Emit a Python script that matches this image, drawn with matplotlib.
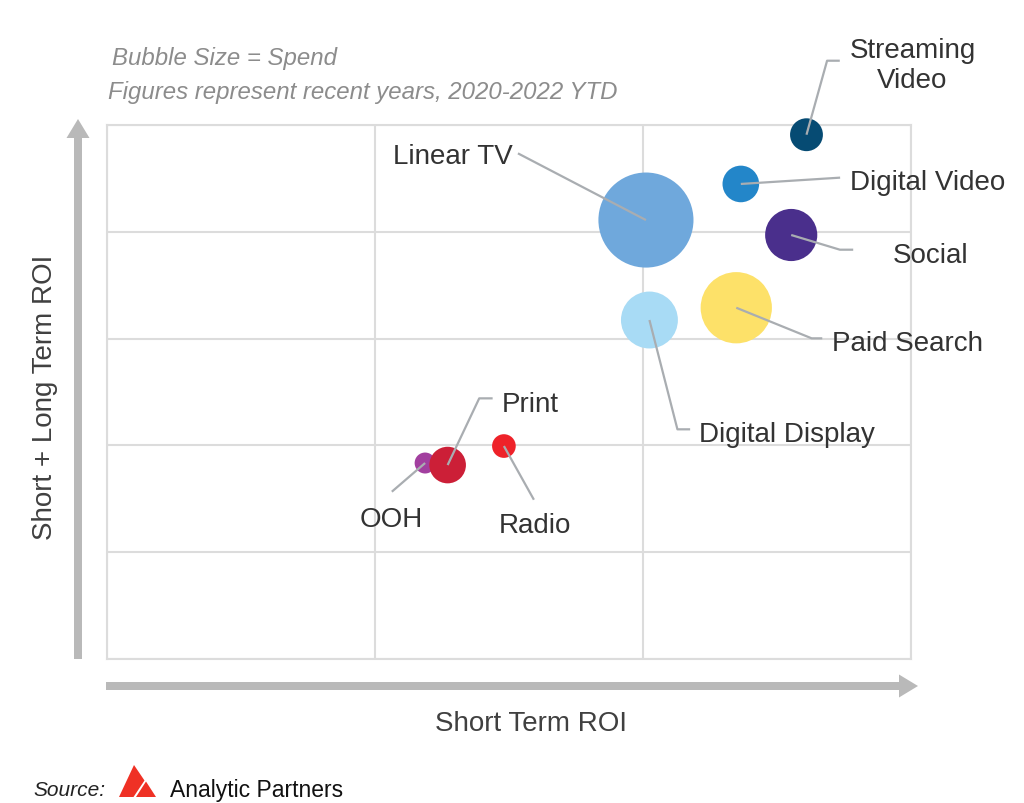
import matplotlib
matplotlib.use('Agg')
import matplotlib.pyplot as plt
from matplotlib.patches import FancyArrow, Polygon
import numpy as np

plt.rcParams['font.family'] = ['Liberation Sans', 'DejaVu Sans']

# data (axes: 0-3 short term ROI, 0-5 short+long term ROI)
channels = ['Streaming Video', 'Digital Video', 'Linear TV', 'Social', 'Paid Search',
            'Digital Display', 'OOH', 'Print', 'Radio']
short_roi = [2.61, 2.365, 2.011, 2.553, 2.348, 2.024, 1.187, 1.271, 1.481]
total_roi = [4.909, 4.448, 4.110, 3.970, 3.289, 3.174, 1.835, 1.816, 1.994]
spend = [2.7, 3.35, 22.6, 6.8, 12.7, 8.1, 1.1, 3.35, 1.4]
colors = ['#064b73', '#2386c9', '#6fa8dc', '#4a2f8c', '#fde169',
          '#a8dbf5', '#a23f9f', '#cc1f37', '#ee2229']

W, H = 1024, 804
fig = plt.figure(figsize=(W / 100, H / 100), dpi=100)

# main plot area
ax = fig.add_axes([107 / W, (H - 660) / H, 804 / W, 534 / H], zorder=1)
ax.set_xlim(0, 3)
ax.set_ylim(0, 5)
ax.set_xticks([0, 1, 2, 3])
ax.set_yticks([0, 1, 2, 3, 4, 5])
ax.tick_params(length=0, labelbottom=False, labelleft=False)
ax.grid(True, color='#dcdcdc', lw=1.5)
ax.set_axisbelow(True)
for s in ax.spines.values():
    s.set_color('#dcdcdc')
    s.set_linewidth(1.5)

sizes = [(2 * 10 * np.sqrt(v) * 0.72) ** 2 for v in spend]
for x, y, sz, c in zip(short_roi, total_roi, sizes, colors):
    ax.scatter(x, y, s=sz, color=c, edgecolors='none', zorder=3, clip_on=False)

# overlay in pixel coords (y down)
ov = fig.add_axes([0, 0, 1, 1], zorder=2)
ov.set_xlim(0, W)
ov.set_ylim(H, 0)
ov.axis('off')
ov.patch.set_alpha(0)

fig.canvas.draw()
centers = []
for x, y in zip(short_roi, total_roi):
    X, Y = ax.transData.transform((x, y))
    centers.append((X, H - Y))

# label layout: leader points (offsets from bubble centre, px) and text offset
layout = {
    'Streaming Video': ([(20.6, -74), (33.3, -74)], (106, -70), 'center', 'Streaming\nVideo'),
    'Digital Video': ([(99.3, -6.3)], (109, -2), 'left', 'Digital Video'),
    'Linear TV': ([(-128, -66.7)], (-133, -64), 'right', 'Linear TV'),
    'Social': ([(48.7, 14.7), (62, 14.7)], (101.7, 20), 'left', 'Social'),
    'Paid Search': ([(75.4, 30.6), (86, 30.6)], (95.7, 35), 'left', 'Paid Search'),
    'Digital Display': ([(28, 109.3), (40.7, 109.3)], (49.7, 114), 'left', 'Digital Display'),
    'OOH': ([(-33.3, 28.7)], (-34, 56), 'center', 'OOH'),
    'Print': ([(31.6, -66.7), (45, -66.7)], (54.3, -61), 'left', 'Print'),
    'Radio': ([(30, 53.7)], (31, 79), 'center', 'Radio'),
}
for name, (cx, cy) in zip(channels, centers):
    pts, (tx, ty), ha, label = layout[name]
    xs = [cx] + [cx + p[0] for p in pts]
    ys = [cy] + [cy + p[1] for p in pts]
    ov.plot(xs, ys, color='#a9adb1', lw=1.6, solid_capstyle='butt')
    ov.text(cx + tx, cy + ty, label, fontsize=20, color='#333333',
            ha=ha, va='center', linespacing=1.2, multialignment='center')

# axis arrows
arrow_c = '#b9b9b9'
ov.add_patch(FancyArrow(106, 687, 812, 0, width=8, head_width=23, head_length=19,
                        length_includes_head=True, color=arrow_c, lw=0))
ov.add_patch(FancyArrow(78, 660, 0, -540, width=8, head_width=23, head_length=19,
                        length_includes_head=True, color=arrow_c, lw=0))

ov.text(531, 724, 'Short Term ROI', fontsize=20, color='#404040', ha='center', va='center')
ov.text(45, 397, 'Short + Long Term ROI', fontsize=20, color='#404040',
        ha='center', va='center', rotation=90)

# notes
ov.text(112, 59, 'Bubble Size = Spend', fontsize=17.3, style='italic', color='#8c8c8c',
        ha='left', va='center')
ov.text(108, 92, 'Figures represent recent years, 2020-2022 YTD', fontsize=17.3,
        style='italic', color='#8c8c8c', ha='left', va='center')

# source line with logo
ov.text(33, 791, 'Source:', fontsize=15, style='italic', color='#222222', ha='left', va='center')
ov.add_patch(Polygon([(119, 798), (134, 766), (144.5, 781.5), (133.5, 798)],
                     closed=True, color='#ef3125', lw=0))
ov.add_patch(Polygon([(146, 782.5), (156, 798), (136, 798)],
                     closed=True, color='#ef3125', lw=0))
ov.text(170, 791, 'Analytic Partners', fontsize=16.5, color='#111111', ha='left', va='center')

fig.savefig('out.png', dpi=100, facecolor='white')
